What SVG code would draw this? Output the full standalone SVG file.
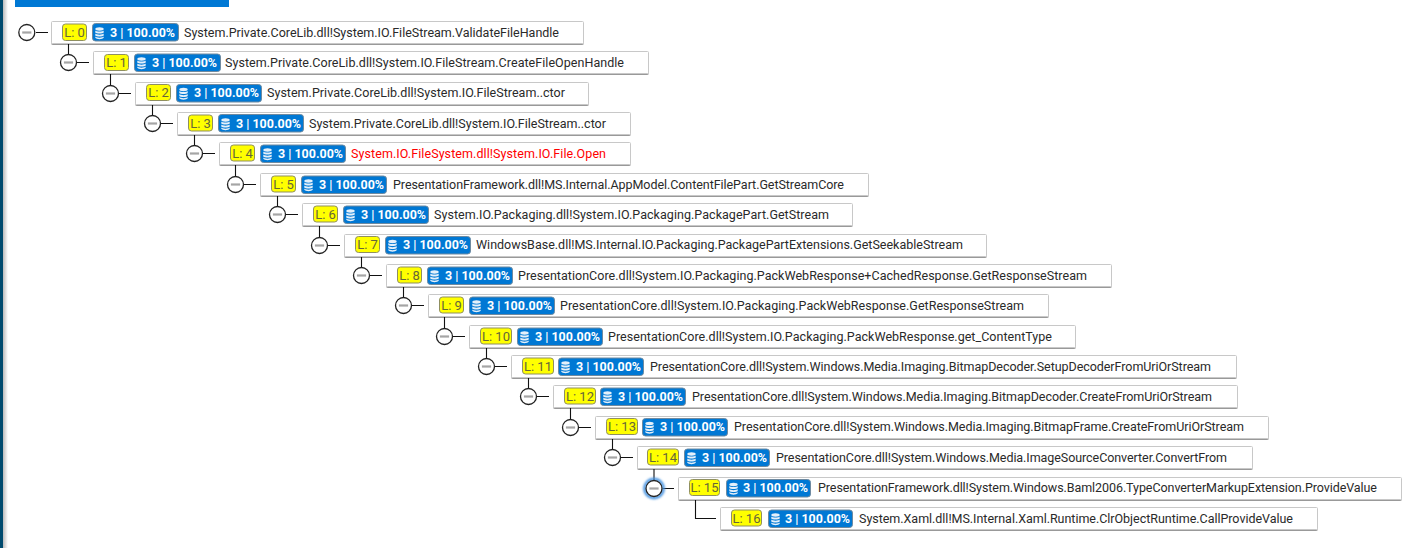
<svg xmlns="http://www.w3.org/2000/svg" width="1426" height="548" viewBox="0 0 1426 548">
<style>
text{font-family:Roboto,"Liberation Sans",sans-serif;font-size:12.5px}
.box{fill:#fff;stroke:#c8c8c8;stroke-width:1;filter:url(#sh)}
.lv{fill:#ffff00;stroke:#8f8f60;stroke-width:1}
.lt{fill:#66663a;text-anchor:middle;font-size:13px}
.pill{fill:#0078d4;stroke:#6f8aa0;stroke-width:1}
.pt{fill:#fff;font-weight:700;font-size:13px}
.name{fill:#2a2a2a}
.red{fill:#ff0000}
.tog{fill:#fff;stroke:#222;stroke-width:1.3}
.dash{stroke:#a5a5a5;stroke-width:2.2}
.con{fill:none;stroke:#111;stroke-width:1.1}
</style>
<defs>
<linearGradient id="edge" x1="0" x2="1" y1="0" y2="0"><stop offset="0" stop-color="#bbb"/><stop offset="1" stop-color="#fff"/></linearGradient>
<filter id="sh" x="-2%" y="-20%" width="104%" height="150%"><feDropShadow dx="0" dy="1" stdDeviation="0.7" flood-color="#000" flood-opacity="0.4"/></filter>
<filter id="glow" x="-50%" y="-50%" width="200%" height="200%"><feGaussianBlur stdDeviation="1"/></filter>
<g id="db" fill="#e4f0fa"><ellipse cx="4.5" cy="-4" rx="4.2" ry="1.7"/><path d="M.3-2.6c1 1.4 7.4 1.4 8.4 0V-.6c-1 1.4-7.4 1.4-8.4 0zM.3.6c1 1.4 7.4 1.4 8.4 0V2.4c-1 1.4-7.4 1.4-8.4 0zM.3 3.6c1 1.4 7.4 1.4 8.4 0V4.8c-1 1.8-7.4 1.8-8.4 0z"/></g>
<g id="tg"><circle class="tog" r="8"/><line class="dash" x1="-4.600" x2="4.600"/></g>
</defs>
<rect width="1426" height="548" fill="#fff"/>
<rect x="3" y="0" width="5" height="548" fill="url(#edge)"/>
<rect x="0" y="0" width="3" height="548" fill="#004a6e"/>
<rect x="15" y="0" width="214" height="7" fill="#0078d4"/>
<g id="connectors">
<path class="con" d="M36 32.500H48M68.500 44V54M77 62.500H89M110.500 74V85M119 93.500H131M152.500 105V115M161 123.500H173M194.500 135V145M203 153.500H215M235.500 165V176M244 184.500H256M277.500 196V206M286 214.500H298M319.500 226V237M328 245.500H340M361.500 257V267M370 275.500H382M403.500 287V297M412 305.500H424M444.500 317V328M453 336.500H465M486.500 348V358M495 366.500H507M528.500 378V388M537 396.500H549M570.500 408V419M579 427.500H591M612.500 439V449M621 457.500H633M654 469V480M663 488.500H674M695.500 500V518.500H716"/>
</g>
<g id="toggles">
<use href="#tg" x="26.800" y="32.500"/><use href="#tg" x="68.500" y="62.500"/><use href="#tg" x="110.500" y="93.500"/><use href="#tg" x="152.500" y="123.500"/><use href="#tg" x="194.500" y="153.500"/><use href="#tg" x="235.500" y="184.500"/><use href="#tg" x="277.500" y="214.500"/><use href="#tg" x="319.500" y="245.500"/><use href="#tg" x="361.500" y="275.500"/><use href="#tg" x="403.500" y="305.500"/><use href="#tg" x="444.500" y="336.500"/><use href="#tg" x="486.500" y="366.500"/><use href="#tg" x="528.500" y="396.500"/><use href="#tg" x="570.500" y="427.500"/><use href="#tg" x="612.500" y="457.500"/>
<circle cx="654" cy="488.500" r="9.500" fill="none" stroke="#3f8fe0" stroke-width="2.500" filter="url(#glow)"/><use href="#tg" x="654" y="488.500"/>
</g>
<g id="n0" transform="translate(51 21)"><rect class="box" x=".5" y=".5" width="532" height="22" rx="1"/><rect class="lv" x="11.500" y="3" width="24" height="16.500" rx="3"/><text class="lt" x="23.500" y="16">L: 0</text><rect class="pill" x="41.500" y="2.500" width="86" height="17.500" rx="3"/><use href="#db" x="44" y="12"/><text class="pt" x="59" y="15.500" textLength="65" lengthAdjust="spacingAndGlyphs">3 | 100.00%</text><text class="name" x="133" y="15.500" textLength="375">System.Private.CoreLib.dll!System.IO.FileStream.ValidateFileHandle</text></g>
<g id="n1" transform="translate(93 51)"><rect class="box" x=".5" y=".5" width="555" height="22" rx="1"/><rect class="lv" x="11.500" y="3.500" width="24" height="16" rx="3"/><text class="lt" x="23.500" y="16">L: 1</text><rect class="pill" x="41.500" y="3" width="86" height="17.500" rx="3"/><use href="#db" x="44" y="12"/><text class="pt" x="59" y="16" textLength="65" lengthAdjust="spacingAndGlyphs">3 | 100.00%</text><text class="name" x="132" y="15.500" textLength="399">System.Private.CoreLib.dll!System.IO.FileStream.CreateFileOpenHandle</text></g>
<g id="n2" transform="translate(135 82)"><rect class="box" x=".5" y=".5" width="453" height="22" rx="1"/><rect class="lv" x="11.500" y="2.500" width="24" height="16" rx="3"/><text class="lt" x="23.500" y="15">L: 2</text><rect class="pill" x="41.500" y="2.500" width="85" height="17.500" rx="3"/><use href="#db" x="44" y="11.500"/><text class="pt" x="59" y="15" textLength="65" lengthAdjust="spacingAndGlyphs">3 | 100.00%</text><text class="name" x="132" y="15" textLength="298">System.Private.CoreLib.dll!System.IO.FileStream..ctor</text></g>
<g id="n3" transform="translate(177 112)"><rect class="box" x=".5" y=".5" width="453" height="22" rx="1"/><rect class="lv" x="11.500" y="3" width="24" height="16" rx="3"/><text class="lt" x="23.500" y="15.500">L: 3</text><rect class="pill" x="41.500" y="2.500" width="85" height="17.500" rx="3"/><use href="#db" x="44" y="12"/><text class="pt" x="59" y="15.500" textLength="65" lengthAdjust="spacingAndGlyphs">3 | 100.00%</text><text class="name" x="132" y="15.500" textLength="297">System.Private.CoreLib.dll!System.IO.FileStream..ctor</text></g>
<g id="n4" transform="translate(219 142)"><rect class="box" x=".5" y=".5" width="411" height="22" rx="1"/><rect class="lv" x="11.500" y="3" width="24" height="16" rx="3"/><text class="lt" x="23.500" y="16">L: 4</text><rect class="pill" x="41.500" y="3" width="85" height="17.500" rx="3"/><use href="#db" x="44" y="12"/><text class="pt" x="59" y="16" textLength="65" lengthAdjust="spacingAndGlyphs">3 | 100.00%</text><text class="name red" x="132" y="16" textLength="255">System.IO.FileSystem.dll!System.IO.File.Open</text></g>
<g id="n5" transform="translate(260 173)"><rect class="box" x=".5" y=".5" width="608" height="22" rx="1"/><rect class="lv" x="11.500" y="3" width="24" height="16" rx="3"/><text class="lt" x="23.500" y="15.500">L: 5</text><rect class="pill" x="41.500" y="3" width="85" height="17.500" rx="3"/><use href="#db" x="44" y="12"/><text class="pt" x="59" y="15.500" textLength="65" lengthAdjust="spacingAndGlyphs">3 | 100.00%</text><text class="name" x="133" y="15.500" textLength="451">PresentationFramework.dll!MS.Internal.AppModel.ContentFilePart.GetStreamCore</text></g>
<g id="n6" transform="translate(302 203)"><rect class="box" x=".5" y=".5" width="550" height="22" rx="1"/><rect class="lv" x="11.500" y="3" width="24" height="16" rx="3"/><text class="lt" x="23.500" y="15.500">L: 6</text><rect class="pill" x="41.500" y="3" width="85" height="17.500" rx="3"/><use href="#db" x="44" y="12"/><text class="pt" x="59" y="15.500" textLength="65" lengthAdjust="spacingAndGlyphs">3 | 100.00%</text><text class="name" x="132" y="15.500" textLength="395">System.IO.Packaging.dll!System.IO.Packaging.PackagePart.GetStream</text></g>
<g id="n7" transform="translate(344 234)"><rect class="box" x=".5" y=".5" width="642" height="22" rx="1"/><rect class="lv" x="11.500" y="2.500" width="24" height="16" rx="3"/><text class="lt" x="23.500" y="15">L: 7</text><rect class="pill" x="41.500" y="2.500" width="85" height="17.500" rx="3"/><use href="#db" x="44" y="11.500"/><text class="pt" x="59" y="15" textLength="65" lengthAdjust="spacingAndGlyphs">3 | 100.00%</text><text class="name" x="132" y="15" textLength="487">WindowsBase.dll!MS.Internal.IO.Packaging.PackagePartExtensions.GetSeekableStream</text></g>
<g id="n8" transform="translate(386 264)"><rect class="box" x=".5" y=".5" width="725" height="22" rx="1"/><rect class="lv" x="11.500" y="3" width="24" height="16" rx="3"/><text class="lt" x="23.500" y="15.500">L: 8</text><rect class="pill" x="41.500" y="3" width="85" height="17.500" rx="3"/><use href="#db" x="44" y="12"/><text class="pt" x="59" y="15.500" textLength="65" lengthAdjust="spacingAndGlyphs">3 | 100.00%</text><text class="name" x="132" y="15.500" textLength="569">PresentationCore.dll!System.IO.Packaging.PackWebResponse+CachedResponse.GetResponseStream</text></g>
<g id="n9" transform="translate(428 294)"><rect class="box" x=".5" y=".5" width="620" height="22" rx="1"/><rect class="lv" x="11.500" y="3" width="24" height="16" rx="3"/><text class="lt" x="23.500" y="16">L: 9</text><rect class="pill" x="41.500" y="3" width="85" height="17.500" rx="3"/><use href="#db" x="44" y="12"/><text class="pt" x="59" y="16" textLength="65" lengthAdjust="spacingAndGlyphs">3 | 100.00%</text><text class="name" x="132" y="16" textLength="464">PresentationCore.dll!System.IO.Packaging.PackWebResponse.GetResponseStream</text></g>
<g id="n10" transform="translate(469 325)"><rect class="box" x=".5" y=".5" width="606" height="22" rx="1"/><rect class="lv" x="11.500" y="3" width="31" height="16" rx="3"/><text class="lt" x="27" y="15.500">L: 10</text><rect class="pill" x="48.500" y="3" width="85" height="17.500" rx="3"/><use href="#db" x="51" y="12"/><text class="pt" x="66" y="15.500" textLength="65" lengthAdjust="spacingAndGlyphs">3 | 100.00%</text><text class="name" x="139" y="15.500" textLength="444">PresentationCore.dll!System.IO.Packaging.PackWebResponse.get_ContentType</text></g>
<g id="n11" transform="translate(511 355)"><rect class="box" x=".5" y=".5" width="725" height="22" rx="1"/><rect class="lv" x="11.500" y="3" width="31" height="16" rx="3"/><text class="lt" x="27" y="15.500">L: 11</text><rect class="pill" x="47.500" y="3" width="85" height="17.500" rx="3"/><use href="#db" x="50" y="12"/><text class="pt" x="65" y="15.500" textLength="65" lengthAdjust="spacingAndGlyphs">3 | 100.00%</text><text class="name" x="139" y="15.500" textLength="561">PresentationCore.dll!System.Windows.Media.Imaging.BitmapDecoder.SetupDecoderFromUriOrStream</text></g>
<g id="n12" transform="translate(553 385)"><rect class="box" x=".5" y=".5" width="684" height="22" rx="1"/><rect class="lv" x="11.500" y="3" width="31" height="16" rx="3"/><text class="lt" x="27" y="16">L: 12</text><rect class="pill" x="47.500" y="3" width="85" height="17.500" rx="3"/><use href="#db" x="50" y="12"/><text class="pt" x="65" y="16" textLength="65" lengthAdjust="spacingAndGlyphs">3 | 100.00%</text><text class="name" x="139" y="16" textLength="520">PresentationCore.dll!System.Windows.Media.Imaging.BitmapDecoder.CreateFromUriOrStream</text></g>
<g id="n13" transform="translate(595 416)"><rect class="box" x=".5" y=".5" width="673" height="22" rx="1"/><rect class="lv" x="11.500" y="2.500" width="31" height="16" rx="3"/><text class="lt" x="27" y="15">L: 13</text><rect class="pill" x="47.500" y="2.500" width="85" height="17.500" rx="3"/><use href="#db" x="50" y="11.500"/><text class="pt" x="65" y="15" textLength="65" lengthAdjust="spacingAndGlyphs">3 | 100.00%</text><text class="name" x="139" y="15" textLength="510">PresentationCore.dll!System.Windows.Media.Imaging.BitmapFrame.CreateFromUriOrStream</text></g>
<g id="n14" transform="translate(637 446)"><rect class="box" x=".5" y=".5" width="615" height="22" rx="1"/><rect class="lv" x="10.500" y="3" width="31" height="16" rx="3"/><text class="lt" x="26" y="16">L: 14</text><rect class="pill" x="47.500" y="3" width="85" height="17.500" rx="3"/><use href="#db" x="50" y="12"/><text class="pt" x="65" y="16" textLength="65" lengthAdjust="spacingAndGlyphs">3 | 100.00%</text><text class="name" x="139" y="16" textLength="451">PresentationCore.dll!System.Windows.Media.ImageSourceConverter.ConvertFrom</text></g>
<g id="n15" transform="translate(678 477)"><rect class="box" x=".5" y=".5" width="723" height="22" rx="1"/><rect class="lv" x="11.500" y="2.500" width="30" height="16" rx="3"/><text class="lt" x="26.500" y="15">L: 15</text><rect class="pill" x="48.500" y="2.500" width="84" height="17.500" rx="3"/><use href="#db" x="51" y="11.500"/><text class="pt" x="65" y="15" textLength="65" lengthAdjust="spacingAndGlyphs">3 | 100.00%</text><text class="name" x="140" y="15" textLength="559">PresentationFramework.dll!System.Windows.Baml2006.TypeConverterMarkupExtension.ProvideValue</text></g>
<g id="n16" transform="translate(720 507)"><rect class="box" x=".5" y=".5" width="597" height="22" rx="1"/><rect class="lv" x="11.500" y="3" width="30" height="16" rx="3"/><text class="lt" x="26.500" y="16">L: 16</text><rect class="pill" x="48.500" y="3" width="84" height="17.500" rx="3"/><use href="#db" x="51" y="12"/><text class="pt" x="65" y="16" textLength="65" lengthAdjust="spacingAndGlyphs">3 | 100.00%</text><text class="name" x="139" y="16" textLength="434">System.Xaml.dll!MS.Internal.Xaml.Runtime.ClrObjectRuntime.CallProvideValue</text></g>
</svg>
